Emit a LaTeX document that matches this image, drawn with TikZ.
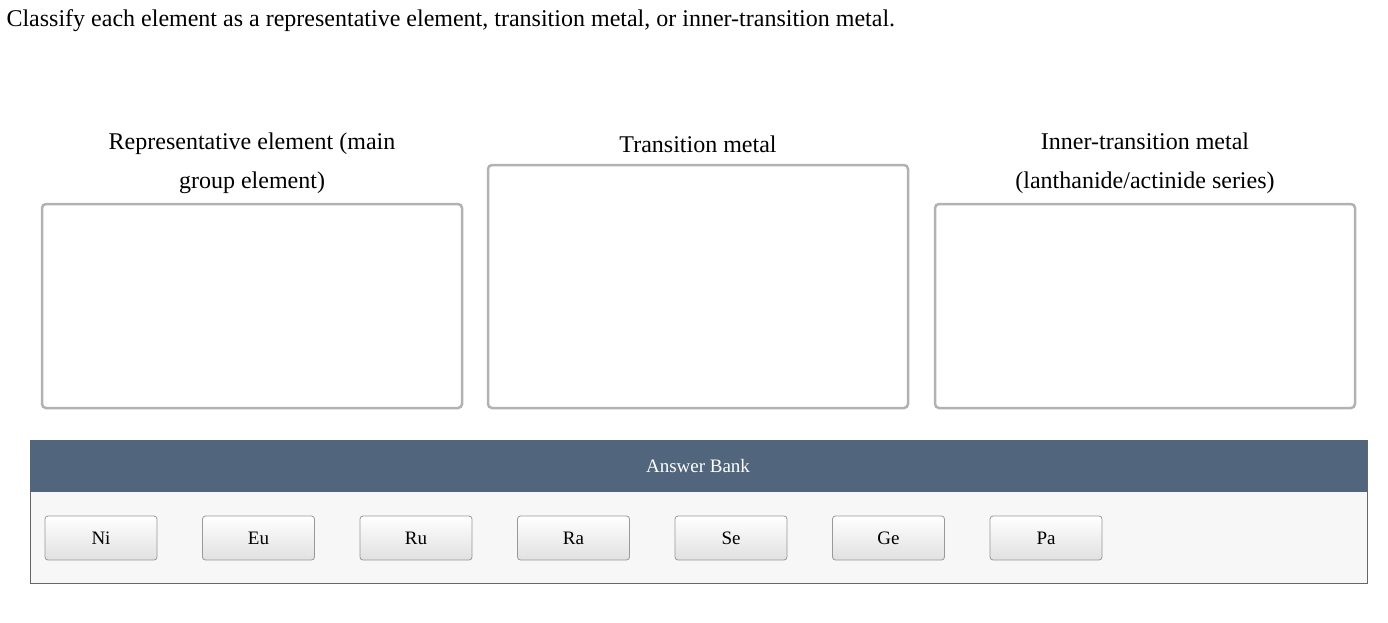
\documentclass[tikz,border=0pt]{standalone}
\usepackage{fontspec}
\setmainfont{Liberation Serif}
\begin{document}
\begin{tikzpicture}[x=1pt,y=-1pt,
  drop/.style={draw=black!30,line width=2.5pt,rounded corners=4pt},
  hdr/.style={font=\fontsize{24}{39}\selectfont,align=center,text=black},
  btn/.style={draw=black!40,line width=0.8pt,rounded corners=3pt,top color=white,bottom color=black!12,minimum width=112pt,minimum height=44pt,inner sep=0pt,font=\fontsize{19}{22}\selectfont},
]
\useasboundingbox (0,0) rectangle (1388,622);
\node[anchor=west,font=\fontsize{24}{28}\selectfont] (title) at (3,21) {Classify each element as a representative element, transition metal, or inner-transition metal.};
\node[hdr] (h1) at (252,163) {Representative element (main\\group element)};
\node[hdr] (h2) at (698,144) {Transition metal};
\node[hdr] (h3) at (1145,163) {Inner-transition metal\\(lanthanide/actinide series)};
\draw[drop] (42,204) rectangle (462,408);
\draw[drop] (488,165) rectangle (908,408);
\draw[drop] (935,204) rectangle (1355,408);
\fill[black!3] (30,492) rectangle (1367,583);
\draw[black!60,line width=0.8pt] (30,440) rectangle (1367,583);
\fill[fill={rgb,255:red,81;green,101;blue,125}] (30,440) rectangle (1367,492);
\node[text=white,font=\fontsize{19}{22}\selectfont] (ab) at (698,466) {Answer Bank};
\foreach \t [count=\i from 0] in {Ni,Eu,Ru,Ra,Se,Ge,Pa}{
  \node[btn] (b\i) at ({101+157.5*\i},538) {\t};
}
\end{tikzpicture}
\end{document}
